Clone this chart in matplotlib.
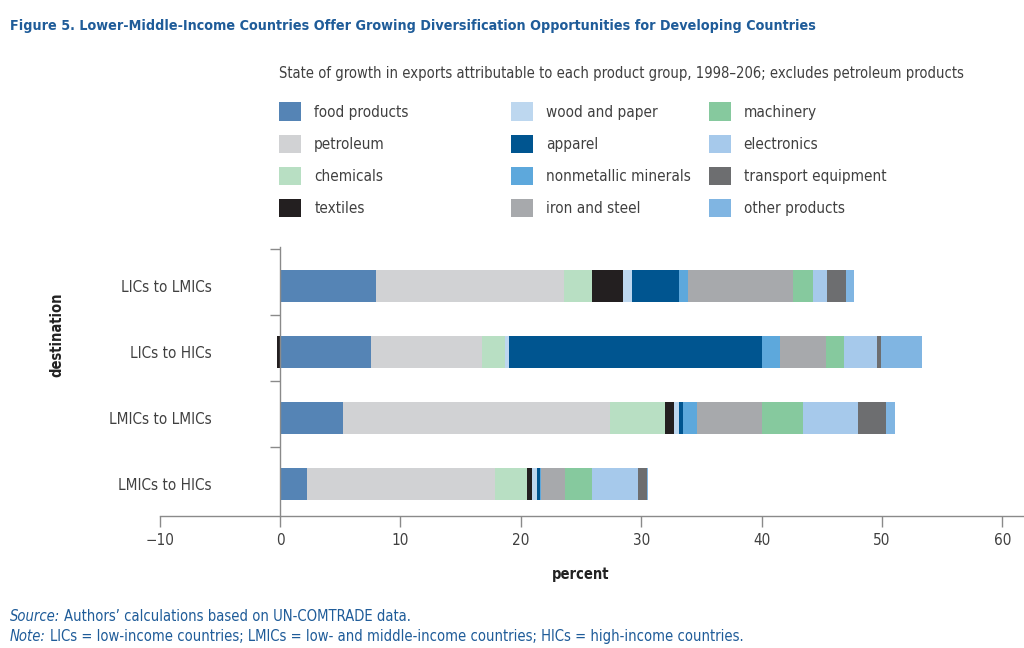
import matplotlib
matplotlib.use("Agg")
import matplotlib.pyplot as plt
import numpy as np

routes = ["LICs to LMICs", "LICs to HICs", "LMICs to LMICs", "LMICs to HICs"]
groups = ["food products", "petroleum", "chemicals", "textiles",
          "wood and paper", "apparel", "nonmetallic minerals", "iron and steel",
          "machinery", "electronics", "transport equipment", "other products"]

# share of export growth per product group, percent (one value per route)
food_products = [7.95, 7.55, 5.25, 2.2]
petroleum = [15.65, 9.2, 22.15, 15.65]
chemicals = [2.3, 1.95, 4.55, 2.7]
textiles = [2.6, -0.3, 0.8, 0.4]
wood_and_paper = [0.7, 0.35, 0.35, 0.4]
apparel = [3.9, 20.95, 0.4, 0.2]
nonmetallic_minerals = [0.8, 1.55, 1.15, 0.1]
iron_and_steel = [8.7, 3.8, 5.35, 2.0]
machinery = [1.65, 1.5, 3.4, 2.25]
electronics = [1.15, 2.7, 4.6, 3.85]
transport_equipment = [1.6, 0.35, 2.3, 0.75]
other_products = [0.7, 3.45, 0.75, 0.1]

series = [food_products, petroleum, chemicals, textiles, wood_and_paper, apparel,
          nonmetallic_minerals, iron_and_steel, machinery, electronics,
          transport_equipment, other_products]
colors = ["#5584b5", "#d1d2d4", "#b8dfc3", "#231f20", "#bdd7ef", "#005590",
          "#5da8dc", "#a7a9ac", "#86c99e", "#a6c9eb", "#6d6e70", "#80b5e2"]

plt.rcParams['font.family'] = ['DejaVu Sans']
plt.rcParams['font.stretch'] = 'condensed'
text_gray = "#404040"
blue = "#1f5c99"

fig = plt.figure(figsize=(10.24, 6.48), dpi=100)
ax = fig.add_axes([0.156, 0.2037, 0.844, 0.415])

y = np.arange(len(routes))
pos_left = np.zeros(len(routes))
neg_left = np.zeros(len(routes))
handles = []
for name, vals, col in zip(groups, series, colors):
    vals = np.array(vals)
    left = np.where(vals >= 0, pos_left, neg_left)
    h = ax.barh(y, vals, left=left, height=0.49, color=col, label=name)
    handles.append(h)
    pos_left += np.where(vals >= 0, vals, 0)
    neg_left += np.where(vals < 0, vals, 0)

ax.set_xlim(-10, 61.8)
ax.set_ylim(3.48, -0.59)
ax.set_xticks(np.arange(-10, 61, 10))
ax.set_yticks(y)
ax.set_yticklabels(routes)
ax.set_yticks([-0.56, 0.44, 1.44, 2.44], minor=True)

for s in ["top", "right"]:
    ax.spines[s].set_visible(False)
ax.spines["left"].set_position(("data", 0))
for s in ["left", "bottom"]:
    ax.spines[s].set_color("#8a8a8a")
    ax.spines[s].set_linewidth(1.0)

ax.tick_params(axis="y", which="major", length=0, pad=49, labelsize=11,
               labelcolor=text_gray)
ax.tick_params(axis="y", which="minor", length=7, width=1.0, color="#8a8a8a",
               direction="out")
ax.tick_params(axis="x", length=8, width=1.0, color="#8a8a8a", pad=4,
               labelsize=11, labelcolor=text_gray)

# legend, three columns placed like the original
cols_x = [0.2725, 0.499, 0.692]
for i, cx in enumerate(cols_x):
    sub = handles[i * 4:(i + 1) * 4]
    fig.legend(sub, [h.get_label() for h in sub], loc="upper left",
               bbox_to_anchor=(cx, 0.842), frameon=False, borderpad=0,
               borderaxespad=0, handlelength=1.45, handleheight=1.45,
               handletextpad=0.85, labelspacing=0.92, fontsize=11,
               labelcolor=text_gray)

fig.text(0.0098, 0.96, "Figure 5. Lower-Middle-Income Countries Offer Growing "
         "Diversification Opportunities for Developing Countries",
         fontsize=10.3, fontweight="bold", color=blue, va="center")
fig.text(0.2725, 0.886, "State of growth in exports attributable to each product "
         "group, 1998\u2013206; excludes petroleum products",
         fontsize=10.65, color=text_gray, va="center")
fig.text(0.056, 0.483, "destination", rotation=90, fontsize=10.5,
         fontweight="bold", color="#222222", ha="center", va="center")
fig.text(0.567, 0.114, "percent", fontsize=10.5, fontweight="bold",
         color="#222222", ha="center", va="center")

# footer: italic lead word followed by plain text
renderer = fig.canvas.get_renderer()
footer = [("Source:", "Authors\u2019 calculations based on UN-COMTRADE data.", 0.048),
          ("Note:", "LICs = low-income countries; LMICs = low- and "
           "middle-income countries; HICs = high-income countries.", 0.018)]
for lead, rest, fy in footer:
    t = fig.text(0.0098, fy, lead, fontsize=10.65, style="italic", color=blue,
                 va="center")
    bb = t.get_window_extent(renderer)
    fig.text((bb.x1 + 4) / fig.bbox.width, fy, rest, fontsize=10.65,
             color=blue, va="center")

fig.savefig("out.png", dpi=100)
